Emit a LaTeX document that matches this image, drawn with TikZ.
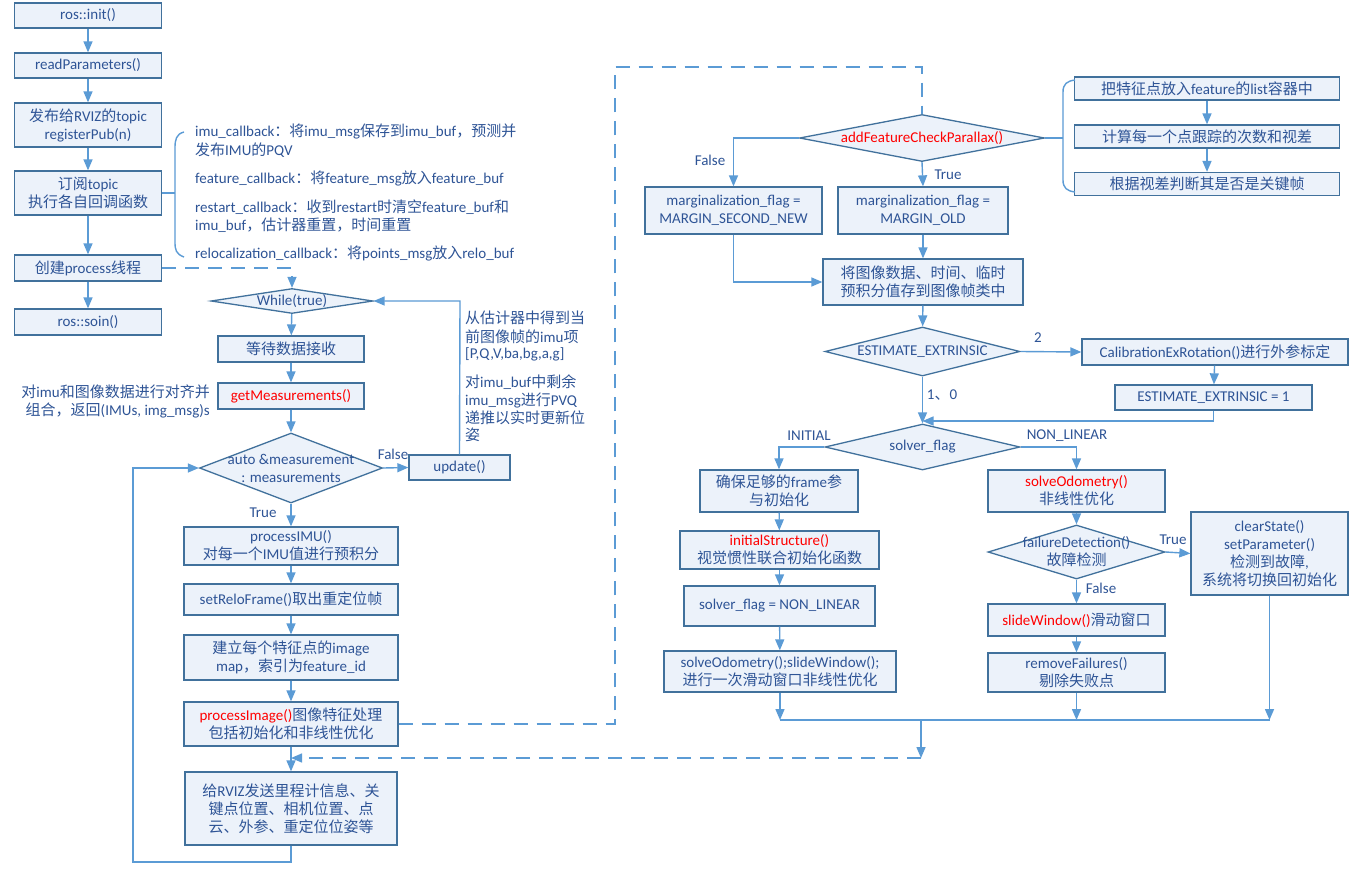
\documentclass[tikz,border=0pt]{standalone}
\usepackage{fontspec}
\setmainfont{Carlito}
\newfontfamily\cjk{Noto Sans CJK SC}[Scale=1.0]
\usetikzlibrary{arrows.meta,shapes.geometric}
\XeTeXinterchartokenstate=1
\newXeTeXintercharclass\CJKcls
\newcount\cc
\cc="3000 \loop\XeTeXcharclass\cc=\CJKcls \advance\cc1 \ifnum\cc<"3040 \repeat
\cc="4E00 \loop\XeTeXcharclass\cc=\CJKcls \advance\cc1 \ifnum\cc<"A000 \repeat
\cc="FF00 \loop\XeTeXcharclass\cc=\CJKcls \advance\cc1 \ifnum\cc<"FFF0 \repeat
\XeTeXinterchartoks 0 \CJKcls = {\begingroup\cjk}
\XeTeXinterchartoks 4095 \CJKcls = {\begingroup\cjk}
\XeTeXinterchartoks \CJKcls 0 = {\endgroup}
\XeTeXinterchartoks \CJKcls 4095 = {\endgroup}
\definecolor{txt}{RGB}{46,84,150}
\definecolor{bd}{RGB}{65,113,156}
\definecolor{ln}{RGB}{91,155,213}
\definecolor{bf}{RGB}{236,242,250}
\begin{document}
\begin{tikzpicture}[x=1pt,y=-1pt,
  every node/.style={text=txt,font=\fontsize{15}{18}\selectfont},
  box/.style={draw=bd,line width=1.3pt,fill=bf,align=center,inner sep=1pt},
  dia/.style={draw=bd,line width=1.3pt,fill=bf,diamond,inner sep=0pt},
  lab/.style={inner sep=1pt},
  ar/.style={draw=ln,line width=1.4pt,-{Triangle[length=11pt,width=9pt]}},
  li/.style={draw=ln,line width=1.4pt},
  da/.style={draw=ln,line width=1.4pt,dash pattern=on 14pt off 9pt},
  red/.style={text=red}]
\useasboundingbox (0,0) rectangle (1354,868);
\fill[white] (0,0) rectangle (1354,868);
\newcommand\bx[5]{\node[box,minimum width=#3,minimum height=#4] (#1) at #2 {#5};}
\newcommand\dm[5]{\node[dia,minimum width=#3,minimum height=#4] (#1) at #2 {}; \node[align=center,inner sep=0pt] at #2 {#5};}
% left column
\bx{init}{(88,15.5)}{147pt}{25pt}{ros::init()}
\bx{readp}{(88,65.5)}{147pt}{25pt}{readParameters()}
\bx{pub}{(88,125)}{147pt}{44pt}{发布给RVIZ的topic\\registerPub(n)}
\bx{sub}{(88,193)}{147pt}{44pt}{订阅topic\\执行各自回调函数}
\bx{create}{(88,268)}{147pt}{26pt}{创建process线程}
\bx{soin}{(88,322)}{147pt}{26pt}{ros::soin()}
\draw[ar] (init) -- (readp);
\draw[ar] (readp) -- (pub);
\draw[ar] (pub) -- (sub);
\draw[ar] (sub) -- (create);
\draw[ar] (create) -- (soin);
% brace
\draw[li] (184,132) .. controls (176,134) and (175,140) .. (175,148) -- (175,242) .. controls (175,250) and (176,254) .. (184,257);
\draw[li] (sub.east) -- (175,193);
\begin{scope}[every node/.style={text=txt,font=\fontsize{15}{18}\selectfont,anchor=west,inner sep=0pt}]
\node at (195,131) {imu\_callback：将imu\_msg保存到imu\_buf，预测并};
\node at (195,150) {发布IMU的PQV};
\node at (195,178) {feature\_callback：将feature\_msg放入feature\_buf};
\node at (195,207) {restart\_callback：收到restart时清空feature\_buf和};
\node at (195,225) {imu\_buf，估计器重置，时间重置};
\node at (195,253) {relocalization\_callback：将points\_msg放入relo\_buf};
\node at (465,318) {从估计器中得到当};
\node at (465,337) {前图像帧的imu项};
\node at (465,354) {[P,Q,V,ba,bg,a,g]};
\node at (465,382) {对imu\_buf中剩余};
\node at (465,400) {imu\_msg进行PVQ};
\node at (465,418) {递推以实时更新位};
\node at (465,435) {姿};
\end{scope}
\node[anchor=east,align=right,inner sep=0pt] at (210,401) {对imu和图像数据进行对齐并\\组合，返回(IMUs, img\_msg)s};
% middle column
\dm{while}{(292,301)}{162pt}{25pt}{While(true)}
\bx{wait}{(291,349)}{146pt}{26pt}{等待数据接收}
\bx{getm}{(291,396)}{146pt}{26pt}{\textcolor{red}{getMeasurements()}}
\dm{auto}{(291,468)}{183pt}{70pt}{auto \&measurement\\: measurements}
\bx{update}{(459.5,467.5)}{101pt}{25pt}{update()}
\bx{pimu}{(291,546)}{214pt}{38pt}{processIMU()\\对每一个IMU值进行预积分}
\bx{relo}{(291,599.5)}{214pt}{31pt}{setReloFrame()取出重定位帧}
\bx{build}{(291,657.5)}{214pt}{45pt}{建立每个特征点的image\\map，索引为feature\_id}
\bx{pimg}{(291,724)}{214pt}{44pt}{\textcolor{red}{processImage()}图像特征处理\\包括初始化和非线性优化}
\bx{rviz}{(291,808.5)}{212pt}{73pt}{给RVIZ发送里程计信息、关\\键点位置、相机位置、点\\云、外参、重定位位姿等}
\draw[da,-{Triangle[length=11pt,width=9pt]}] (create.east) -- (292,268) -- (while.north);
\draw[ar] (while) -- (wait);
\draw[ar] (wait) -- (getm);
\draw[ar] (getm) -- (auto);
\draw[ar] (auto.east) -- (update.west);
\node[lab] at (393,454) {False};
\draw[ar] (update.north) -- (460,301) -- (while.east);
\draw[ar] (auto.south) -- (pimu);
\node[lab] at (263,513) {True};
\draw[ar] (pimu) -- (relo);
\draw[ar] (relo) -- (build);
\draw[ar] (build) -- (pimg);
\draw[ar] (pimg) -- (rviz);
\draw[ar] (rviz.south) -- (291,862) -- (133,862) -- (133,468) -- (auto.west);
% right part
\dm{addf}{(922,138)}{245pt}{47pt}{\textcolor{red}{addFeatureCheckParallax()}}
\draw[da] (pimg.east) -- (615,724) -- (615,67) -- (922,67) -- (addf.north);
\bx{rb1}{(1207,88.5)}{265pt}{23pt}{把特征点放入feature的list容器中}
\bx{rb2}{(1207,136.5)}{265pt}{23pt}{计算每一个点跟踪的次数和视差}
\bx{rb3}{(1207,184)}{265pt}{23pt}{根据视差判断其是否是关键帧}
\draw[ar] (rb1) -- (rb2);
\draw[ar] (rb2) -- (rb3);
\draw[li] (1075,80) .. controls (1067,81) and (1063,84) .. (1063,92) -- (1063,180) .. controls (1063,188) and (1067,191) .. (1075,192);
\draw[li] (addf.east) -- (1063,138);
\bx{msec}{(733.5,210.5)}{177pt}{47pt}{marginalization\_flag =\\MARGIN\_SECOND\_NEW}
\bx{mold}{(923,210.5)}{170pt}{47pt}{marginalization\_flag =\\MARGIN\_OLD}
\draw[ar] (addf.west) -- (733.5,138) -- (msec.north);
\node[lab] at (710,160) {False};
\draw[ar] (addf.south) -- (mold.north);
\node[lab] at (948,175) {True};
\bx{store}{(923,282)}{200pt}{46pt}{将图像数据、时间、临时\\预积分值存到图像帧类中}
\draw[ar] (mold) -- (store);
\draw[ar] (msec.south) -- (733.5,282) -- (store.west);
\dm{est}{(922.5,351.5)}{195pt}{49pt}{ESTIMATE\_EXTRINSIC}
\draw[ar] (store) -- (est);
\bx{calib}{(1215,352)}{266pt}{26pt}{CalibrationExRotation()进行外参标定}
\bx{est1}{(1213.5,397.5)}{197pt}{25pt}{ESTIMATE\_EXTRINSIC = 1}
\draw[ar] (est.east) -- (calib.west);
\node[lab] at (1038,338) {2};
\draw[ar] (calib) -- (est1);
\dm{solver}{(922.5,447)}{195pt}{46pt}{solver\_flag}
\draw[ar] (est.south) -- (solver.north);
\node[lab] at (942,395) {1、0};
\draw[ar] (est1.south) -- (1213.5,421) -- (922.5,421);
\node[lab] at (809,436) {INITIAL};
\node[lab] at (1067,436) {NON\_LINEAR};
\bx{ensure}{(779,491)}{158pt}{42pt}{确保足够的frame参\\与初始化}
\bx{inits}{(779.5,550)}{199pt}{38pt}{\textcolor{red}{initialStructure()}\\视觉惯性联合初始化函数}
\bx{sfnl}{(779.5,606)}{191pt}{40pt}{solver\_flag = NON\_LINEAR}
\bx{sosw}{(780,671.5)}{232pt}{41pt}{solveOdometry();slideWindow();\\进行一次滑动窗口非线性优化}
\draw[ar] (solver.west) -- (779,447) -- (ensure.north);
\draw[ar] (ensure) -- (inits);
\draw[ar] (inits) -- (sfnl);
\draw[ar] (sfnl) -- (sosw);
\bx{solveo}{(1076.5,491)}{177pt}{42pt}{\textcolor{red}{solveOdometry()}\\非线性优化}
\dm{fail}{(1076.5,552)}{177pt}{54pt}{failureDetection()\\故障检测}
\bx{cs}{(1269.5,553.5)}{157pt}{83pt}{clearState()\\setParameter()\\检测到故障,\\系统将切换回初始化}
\bx{slide}{(1076.5,620)}{177pt}{32pt}{\textcolor{red}{slideWindow()}滑动窗口}
\bx{remove}{(1076.5,672.5)}{177pt}{39pt}{removeFailures()\\剔除失败点}
\draw[ar] (solver.east) -- (1076.5,447) -- (solveo.north);
\draw[ar] (solveo) -- (fail);
\draw[ar] (fail.east) -- (cs.west);
\node[lab] at (1173,540) {True};
\draw[ar] (fail.south) -- (slide.north);
\node[lab] at (1101,588) {False};
\draw[ar] (slide) -- (remove);
% merge
\coordinate (m1) at (780,720);
\coordinate (m2) at (1269.5,720);
\coordinate (mc) at (921,720);
\coordinate (md) at (921,758);
\coordinate (ml) at (291,758);
\draw[ar] (sosw.south) -- (m1);
\draw[ar] (remove.south) -- (1076.5,720);
\draw[ar] (cs.south) -- (m2);
\draw[li] (m1) -- (m2);
\draw[ar] (mc) -- (md);
\draw[da,-{Triangle[length=11pt,width=9pt]}] (md) -- (ml);
\end{tikzpicture}
\end{document}
